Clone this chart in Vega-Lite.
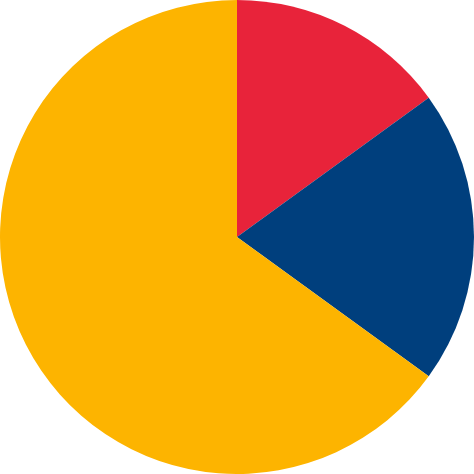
{
  "$schema": "https://vega.github.io/schema/vega-lite/v6.json",
  "width": 474,
  "height": 474,
  "padding": 0,
  "autosize": {"type": "fit", "contains": "padding"},
  "config": {"view": {"stroke": null}},
  "data": {
    "values": [
      {"category": "A", "value": 15, "order": 1},
      {"category": "B", "value": 20, "order": 2},
      {"category": "C", "value": 65, "order": 3}
    ]
  },
  "mark": {"type": "arc", "outerRadius": 237},
  "encoding": {
    "theta": {"field": "value", "type": "quantitative", "stack": true},
    "order": {"field": "order", "type": "quantitative"},
    "color": {
      "field": "category",
      "type": "nominal",
      "scale": {"domain": ["A", "B", "C"], "range": ["#E8233A", "#003F7D", "#FDB400"]},
      "legend": null
    }
  }
}
